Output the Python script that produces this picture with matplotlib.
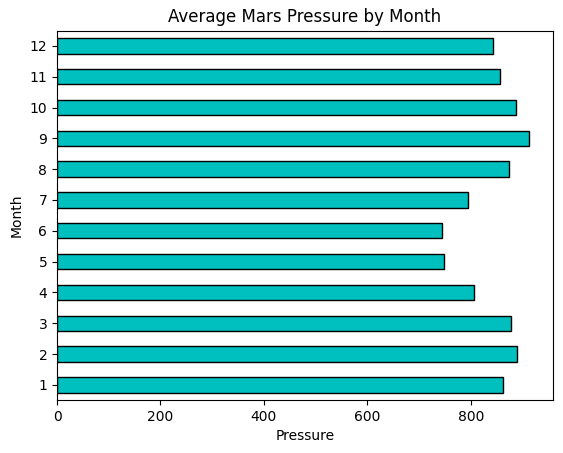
import matplotlib
matplotlib.use("Agg")
import matplotlib.pyplot as plt

# average pressure per martian month
months = [1, 2, 3, 4, 5, 6, 7, 8, 9, 10, 11, 12]
pressure = [862.49, 889.46, 877.32, 806.33, 748.56, 745.05,
            795.11, 873.83, 913.31, 887.31, 857.01, 842.16]

fig = plt.figure(figsize=(5.63, 4.53), dpi=100)
ax = fig.add_axes([57 / 563, 1 - 400.2 / 453, 496 / 563, 369.6 / 453])

pos = list(range(len(months)))
ax.barh(pos, pressure, height=0.5, color="c", edgecolor="black")
ax.set_yticks(pos)
ax.set_yticklabels([str(m) for m in months])
ax.set_ylim(-0.5, len(months) - 0.5)
ax.set_xlim(0, max(pressure) * 1.05)

ax.set_title("Average Mars Pressure by Month")
ax.set_xlabel("Pressure")
ax.set_ylabel("Month")

fig.savefig("out.png", dpi=100)
